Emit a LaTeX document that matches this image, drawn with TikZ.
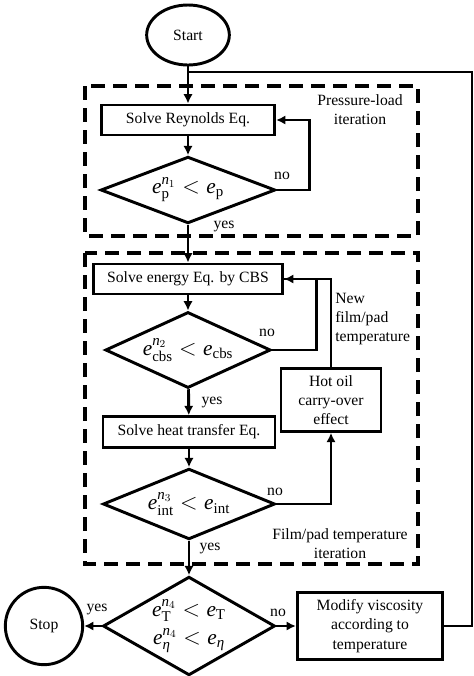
\documentclass[tikz,border=0pt]{standalone}
\usepackage{amsmath}
\usepackage{fontspec}
\setmainfont{Liberation Serif}
\usetikzlibrary{arrows.meta,shapes.geometric}

\tikzset{
  txt/.style={font=\fontsize{11.75}{14.4}\selectfont},
  box/.style={txt,draw,line width=2.2pt,inner sep=0pt,align=center},
  check/.style={box,diamond,aspect=2.4,font=\fontsize{16}{21}\selectfont},
  flow/.style={line width=2.2pt,-{Latex[length=7pt,width=7pt]}},
  line/.style={line width=2.2pt},
  dashbox/.style={line width=2.4pt,dash pattern=on 10.5pt off 6pt},
  lbl/.style={txt,inner sep=0pt}
}

\begin{document}
\begin{tikzpicture}[x=0.75pt,y=-0.75pt]
\useasboundingbox (0,0) rectangle (474,676);

% dashed iteration frames
\draw[dashbox] (85,86) rectangle (418,236);
\draw[dashbox] (85,253) rectangle (418,564);

\node[box,ellipse,minimum width=62pt,minimum height=45pt] (start) at (188,35) {Start};
\node[box,minimum width=130pt,minimum height=22.5pt] (reynolds) at (188,120) {Solve Reynolds Eq.};
\node[check,minimum width=131pt,minimum height=50pt] (chkp) at (188,190)
  {$\mathit{e}^{\mathit{n}_1}_{\mathrm{p}} < \mathit{e}_{\mathrm{p}}$};
\node[box,minimum width=142pt,minimum height=22.5pt] (energy) at (188,279) {Solve energy Eq. by CBS};
\node[check,minimum width=124pt,minimum height=57pt] (chkcbs) at (188,350)
  {$\mathit{e}^{\mathit{n}_2}_{\mathrm{cbs}} < \mathit{e}_{\mathrm{cbs}}$};
\node[box,minimum width=129pt,minimum height=23pt] (heat) at (189,432) {Solve heat transfer Eq.};
\node[check,minimum width=129pt,minimum height=53pt] (chkint) at (189,504)
  {$\mathit{e}^{\mathit{n}_3}_{\mathrm{int}} < \mathit{e}_{\mathrm{int}}$};
\node[box,minimum width=75pt,minimum height=47pt] (hotoil) at (331,400) {Hot oil\\carry-over\\effect};
\node[check,aspect=1.8,inner ysep=-12pt,minimum width=129pt,minimum height=74pt] (chkT) at (189,626)
  {$\mathit{e}^{\mathit{n}_4}_{\mathrm{T}} < \mathit{e}_{\mathrm{T}}$\\
   $\mathit{e}^{\mathit{n}_4}_{\textit{η}} < \mathit{e}_{\textit{η}}$};
\node[box,circle,minimum size=58pt] (stop) at (44,626) {Stop};
\node[box,minimum width=109pt,minimum height=50pt] (visc) at (370,626) {Modify viscosity\\according to\\temperature};

% frame captions and branch labels
\node[lbl,align=center] (pcap) at (360,110) {Pressure-load\\iteration};
\node[lbl,align=left,anchor=west] (tcap) at (335,319) {New\\film/pad\\temperature};
\node[lbl,align=center] (fcap) at (340,544) {Film/pad temperature\\iteration};
\node[lbl] (no1) at (282,176) {no};
\node[lbl] (yes1) at (224,226) {yes};
\node[lbl] (no2) at (267,333) {no};
\node[lbl] (yes2) at (212,402) {yes};
\node[lbl] (no3) at (275,492) {no};
\node[lbl] (yes3) at (210,548) {yes};
\node[lbl] (yes4) at (97,609) {yes};
\node[lbl] (no4) at (278,613) {no};

\coordinate (join) at (188,72);
\coordinate (back) at (472,72);

\draw[flow] (start) -- (reynolds);
\draw[flow] (reynolds) -- (chkp);
\draw[flow] (chkp.east) -- ++(33,0) |- (reynolds.east);
\draw[flow] (chkp) -- (energy);
\draw[flow] (energy) -- (chkcbs);
\draw[line] (chkcbs.east) -- ++(44,0) |- (energy.east);
\draw[flow] (hotoil.north) |- (energy.east);
\draw[flow] (chkcbs) -- (heat);
\draw[flow] (heat) -- (chkint);
\draw[flow] (chkint.east) -| (hotoil.south);
\draw[flow] (chkint) -- (chkT);
\draw[flow] (chkT) -- (stop);
\draw[flow] (chkT) -- (visc);
\draw[line] (visc.east) -| (back) -- (join);
\end{tikzpicture}
\end{document}
